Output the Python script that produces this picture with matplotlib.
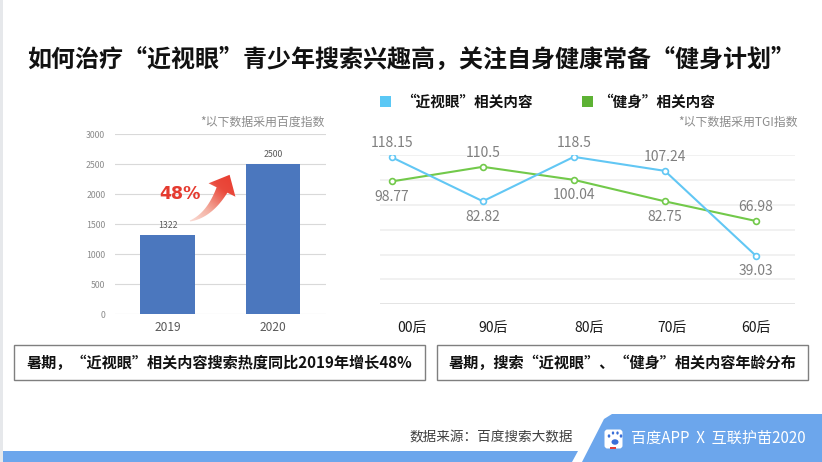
import numpy as np
import matplotlib
matplotlib.use("Agg")
import matplotlib.pyplot as plt
from matplotlib.patches import Rectangle, Polygon, FancyBboxPatch, Ellipse
from matplotlib.colors import LinearSegmentedColormap

plt.rcParams['font.family'] = ['Noto Sans CJK SC', 'DejaVu Sans']

# 数据
years = ["2019", "2020"]
search_heat = [1322, 2500]
growth_label = "48%"

ages = ["00后", "90后", "80后", "70后", "60后"]
myopia_tgi = [118.15, 82.82, 118.5, 107.24, 39.03]
fitness_tgi = [98.77, 110.5, 100.04, 82.75, 66.98]
# 标签在上(1)还是在下(-1)
myopia_side = [1, -1, 1, 1, -1]
fitness_side = [-1, 1, -1, -1, 1]

W, H = 822, 462
fig = plt.figure(figsize=(W / 100, H / 100), dpi=100)
fig.patch.set_facecolor("white")


def ax_px(left, top, right, bottom, **kw):
    # 像素坐标 -> figure 坐标
    return fig.add_axes([left / W, 1 - bottom / H, (right - left) / W, (bottom - top) / H], **kw)


# 覆盖层 (像素坐标)
bg = ax_px(0, 0, W, H, zorder=2)
bg.set_xlim(0, W)
bg.set_ylim(H, 0)
bg.axis("off")

bg.add_patch(Rectangle((0, 0), 3, H, color="#E6E8EB", lw=0))
blue = "#6CA6EC"
bg.add_patch(Polygon([(3, 451), (578, 451), (572, 462), (3, 462)], closed=True, color=blue, lw=0))
bg.add_patch(Polygon([(582, 462), (604, 419), (612, 414), (W, 414), (W, 462)], closed=True, color=blue, lw=0))

# 百度 logo
bg.add_patch(FancyBboxPatch((605, 430), 17, 18, boxstyle="round,pad=0.5,rounding_size=3",
                            fc="white", ec="none"))
for cx, cy, rw, rh in [(609, 436, 2.6, 3.4), (613, 433, 2.4, 3.2), (617.5, 433, 2.4, 3.2),
                       (621, 436, 2.6, 3.4), (615, 442, 7, 5.5)]:
    bg.add_patch(Ellipse((cx, cy), rw, rh, color="#3A6FD8", lw=0))
bg.add_patch(Rectangle((610, 447), 6, 1.5, color="#E0403A", lw=0))
bg.text(631, 438.5, "百度APP  X  互联护苗2020", color="white", fontsize=10.9,
        ha="left", va="center")
bg.text(573, 437, "数据来源：百度搜索大数据", color="#404040", fontsize=9.8,
        ha="right", va="center")

# 标题
bg.text(411, 60, "如何治疗“近视眼”青少年搜索兴趣高，关注自身健康常备“健身计划”",
        fontsize=17.3, fontweight="bold", color="#111111", ha="center", va="center")

# 底部说明框
bg.add_patch(Rectangle((14, 345), 411, 35, fill=False, ec="#7F7F7F", lw=1))
bg.add_patch(Rectangle((437, 345), 371, 35, fill=False, ec="#7F7F7F", lw=1))
bg.text(219.5, 362.5, "暑期，“近视眼”相关内容搜索热度同比2019年增长48%", fontsize=10.9,
        fontweight="bold", color="#111111", ha="center", va="center")
bg.text(622.5, 362.5, "暑期，搜索“近视眼”、“健身”相关内容年龄分布", fontsize=10.9,
        fontweight="bold", color="#111111", ha="center", va="center")

# 注释
bg.text(325, 122, "*以下数据采用百度指数", fontsize=8.6, color="#8C8C8C", ha="right", va="center")
bg.text(798, 122, "*以下数据采用TGI指数", fontsize=8.6, color="#8C8C8C", ha="right", va="center")

# 图例
c_blue_sq, c_green_sq = "#5BC8F5", "#5DB234"
c_blue, c_green = "#62C7F4", "#72C94A"
bg.add_patch(Rectangle((380, 96), 11, 11, color=c_blue_sq, lw=0))
bg.text(401, 101.5, "“近视眼”相关内容", fontsize=10.5, fontweight="bold", color="#111111",
        ha="left", va="center")
bg.add_patch(Rectangle((582, 96), 11, 11, color=c_green_sq, lw=0))
bg.text(598, 101.5, "“健身”相关内容", fontsize=10.5, fontweight="bold", color="#111111",
        ha="left", va="center")

# 柱状图
ax1 = ax_px(115, 134.3, 325.6, 314, zorder=1)
x1 = np.arange(len(years))
bars = ax1.bar(x1, search_heat, width=0.52, color="#4B77BE", zorder=3)
ax1.set_xlim(-0.5, 1.5)
ax1.set_ylim(0, 3000)
ax1.set_yticks(np.arange(0, 3001, 500))
ax1.yaxis.grid(True, color="#D9D9D9", lw=0.8)
ax1.set_axisbelow(True)
for s in ax1.spines.values():
    s.set_visible(False)
ax1.tick_params(axis="y", length=0, labelsize=6.3, labelcolor="#8C8C8C", pad=7)
ax1.set_xticks(x1)
ax1.set_xticklabels(years)
ax1.tick_params(axis="x", length=0, labelsize=8.6, labelcolor="#595959", pad=5)
for b, v in zip(bars, search_heat):
    ax1.annotate(str(v), (b.get_x() + b.get_width() / 2, v), xytext=(0, 7),
                 textcoords="offset points", ha="center", va="center",
                 fontsize=6.3, color="#595959")

# 渐变箭头
t = np.linspace(0, 1, 40)[:, None]
P0, P1, P2 = np.array([190, 221.0]), np.array([209.4, 215.2]), np.array([222, 190.0])
c = (1 - t) ** 2 * P0 + 2 * (1 - t) * t * P1 + t ** 2 * P2
d = 2 * (1 - t) * (P1 - P0) + 2 * t * (P2 - P1)
d = d / np.linalg.norm(d, axis=1, keepdims=True)
nrm = np.column_stack([d[:, 1], -d[:, 0]])
w = (0.5 + 5.5 * t)
left_side = c + nrm * w
right_side = c - nrm * w
dE = d[-1]
nE = nrm[-1]
head = [P2 + nE * 15, P2 + dE * 17, P2 - nE * 15]
pts = np.vstack([left_side, head, right_side[::-1]])
arrow = Polygon(pts, closed=True, fc="none", ec="none")
bg.add_patch(arrow)
gx, gy = np.meshgrid(np.linspace(0, 1, 100), np.linspace(0, 1, 100))
grad = (gx + (1 - gy)) / 2
cmap = LinearSegmentedColormap.from_list("arr", ["#FCE9E4", "#F4B2A4", "#EA4A3C", "#E8372C"])
im = bg.imshow(grad, extent=[186, 242, 226, 172], cmap=cmap, origin="upper",
               interpolation="bilinear", zorder=5)
im.set_clip_path(arrow)
bg.set_xlim(0, W)
bg.set_ylim(H, 0)
bg.text(180, 194, growth_label, color="#E53A2F", fontsize=12.5, fontweight="bold",
        ha="center", va="center", family="DejaVu Sans")

# 折线图
ax2 = ax_px(380, 155, 795, 304.3, zorder=1)
x2 = np.arange(len(ages))
ax2.plot(x2, myopia_tgi, color=c_blue, lw=1.5, marker="o", ms=4.2, mfc="white",
         mec=c_blue, mew=1.2, zorder=4)
ax2.plot(x2, fitness_tgi, color=c_green, lw=1.5, marker="o", ms=4.2, mfc="white",
         mec=c_green, mew=1.2, zorder=3)
ax2.set_xlim(-0.13, 4.43)
ax2.set_ylim(0, 120)
ax2.set_yticks(np.arange(0, 121, 20))
ax2.yaxis.grid(True, color="#EFEFEF", lw=1.2)
ax2.set_axisbelow(True)
for s in ax2.spines.values():
    s.set_visible(False)
ax2.axhline(0, color="#E3E3E3", lw=2, zorder=1)
ax2.tick_params(axis="y", length=0, labelleft=False)
label_shift = [0.22, 0.11, 0.17, 0.08, 0.0]
ax2.set_xticks(x2 + np.array(label_shift))
ax2.set_xticklabels(ages)
ax2.tick_params(axis="x", length=0, labelsize=10, labelcolor="#1A1A1A", pad=12)
for vals, sides in [(myopia_tgi, myopia_side), (fitness_tgi, fitness_side)]:
    for xi, v, s in zip(x2, vals, sides):
        ax2.annotate(f"{v:g}", (xi, v), xytext=(0, 10 * s if s > 0 else -11),
                     textcoords="offset points", ha="center", va="center",
                     fontsize=10, color="#7F7F7F")

bg.patch.set_alpha(0)
fig.savefig("out.png", dpi=100)
